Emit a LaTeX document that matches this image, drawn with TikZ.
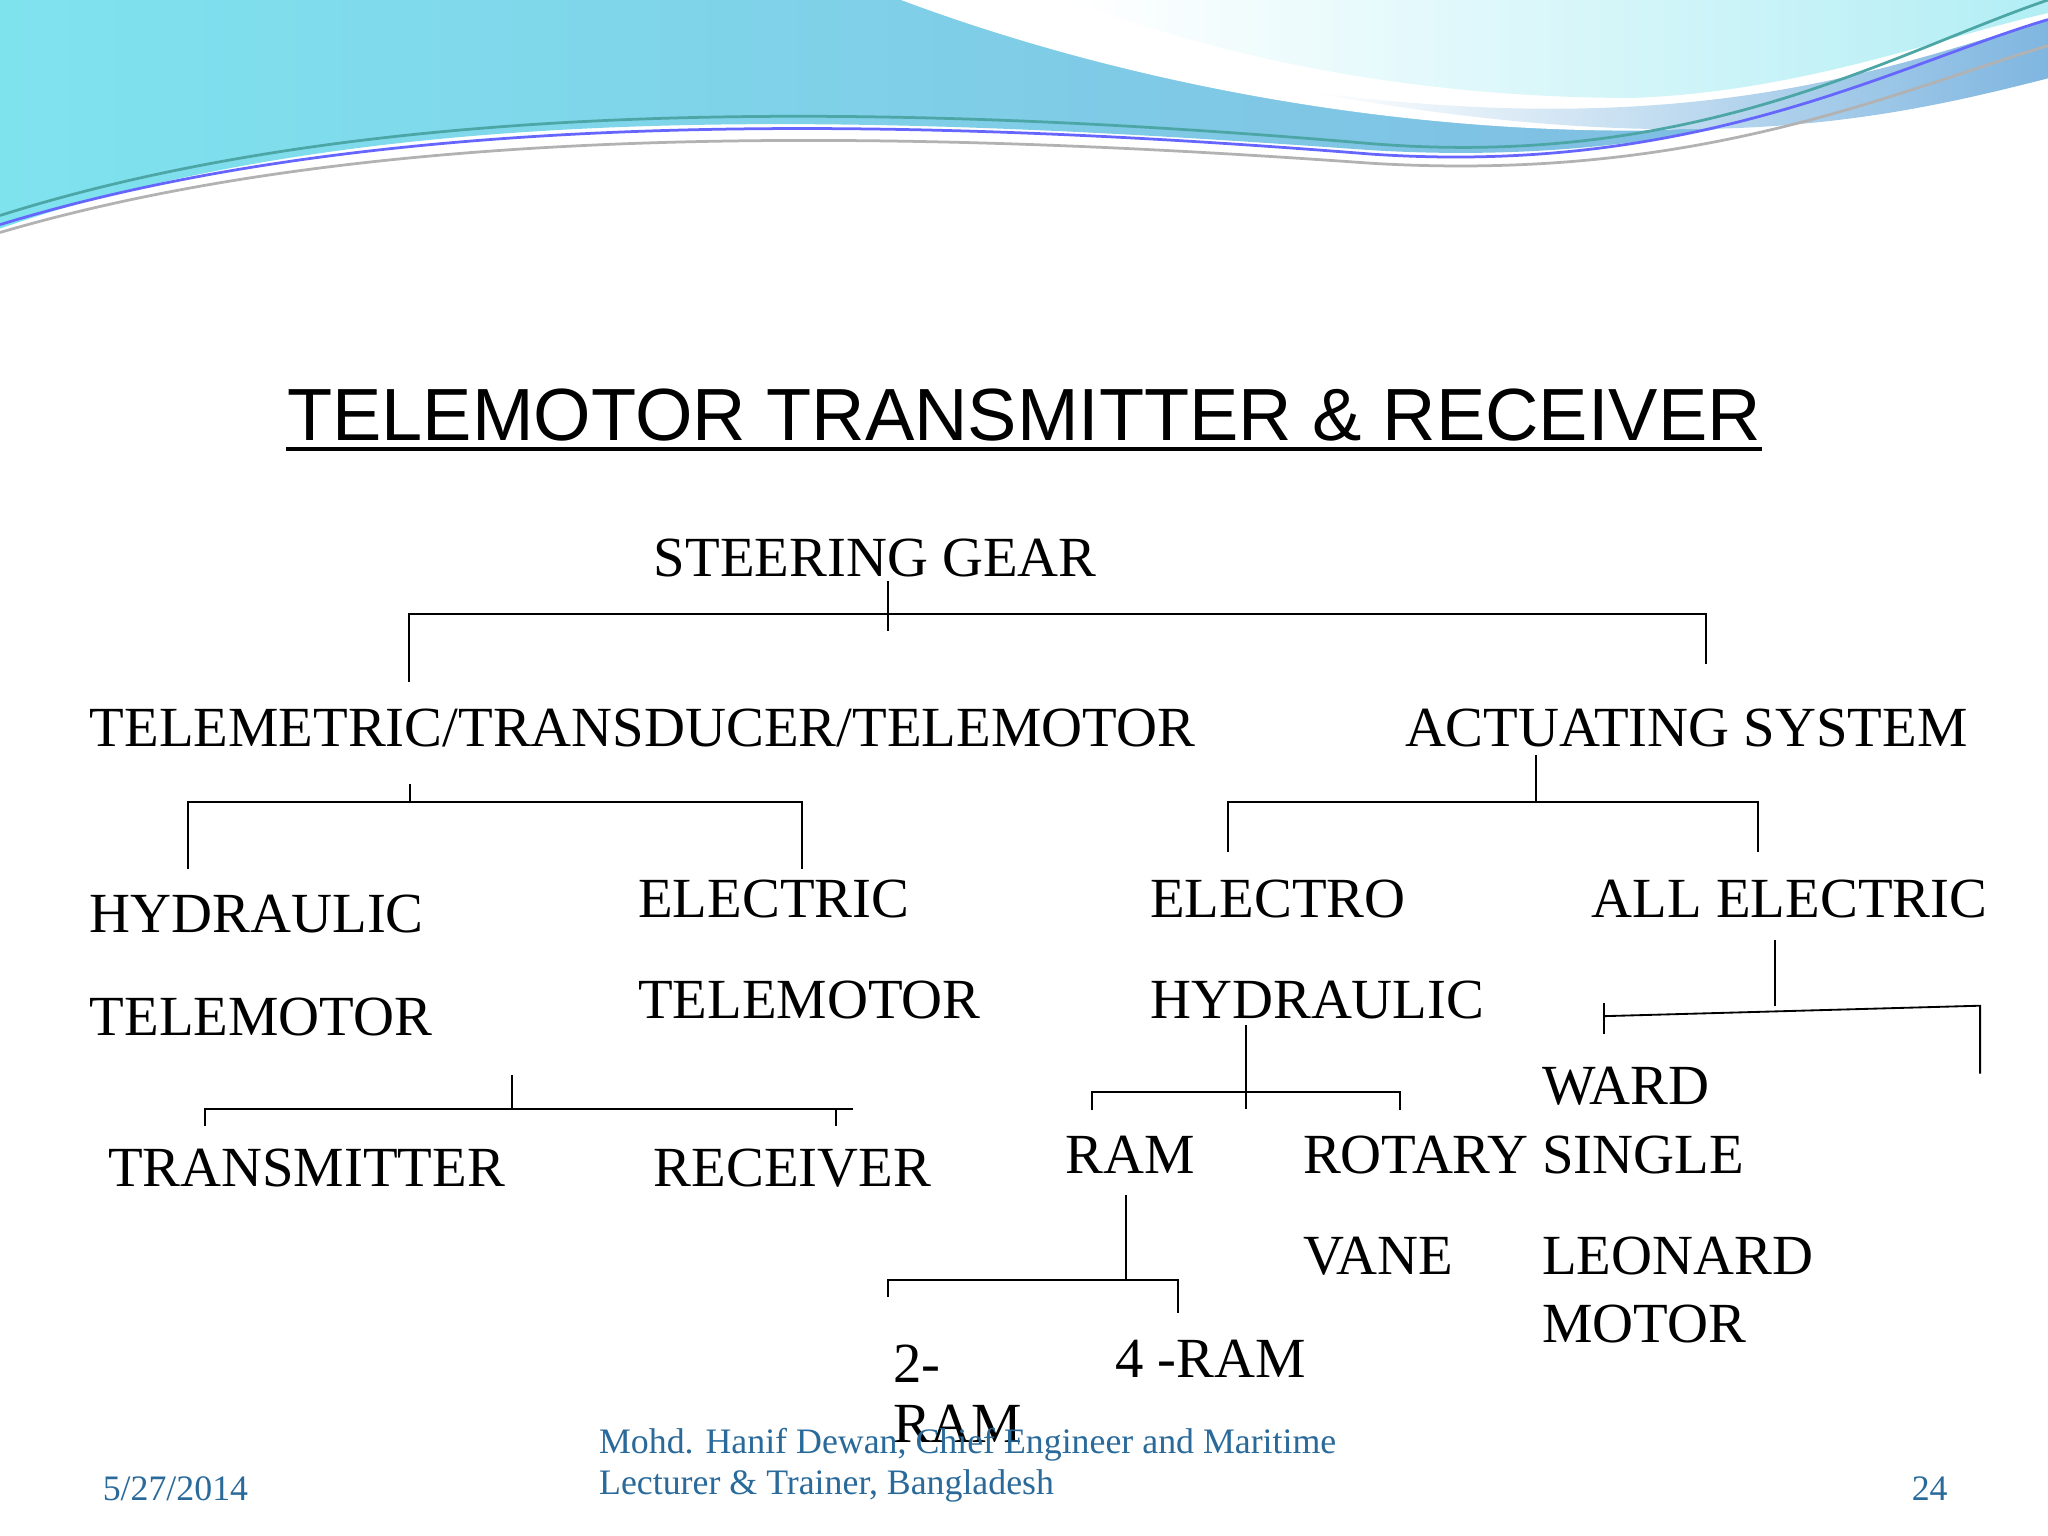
\documentclass[tikz,border=0pt]{standalone}
\usepackage{fontspec}
\setmainfont{Liberation Serif}
\newfontfamily\titlefont{Liberation Sans}
\usetikzlibrary{calc}
\begin{document}
\begin{tikzpicture}[x=0.01cm,y=-0.01cm,
  lbl/.style={anchor=west,inner sep=0pt,font=\fontsize{12.35}{14}\selectfont},
  foot/.style={anchor=west,inner sep=0pt,font=\fontsize{7.8}{9}\selectfont,text=footblue},
  tree/.style={draw=black,line width=0.4pt}]
\definecolor{footblue}{HTML}{2A6A9A}
\definecolor{cyanA}{HTML}{7FE3EE}
\definecolor{blueA}{HTML}{7FB6E0}
\useasboundingbox[fill=white] (0,0) rectangle (1568,1176);
% header wave
\shade[left color=cyanA,right color=blueA] (0,0) -- (0,175) .. controls (300,70) and (700,90) .. (1050,115) .. controls (1300,130) and (1450,60) .. (1568,30) -- (1568,0) -- cycle;
\fill[white] (690,0) .. controls (850,60) and (1050,100) .. (1250,100) .. controls (1380,100) and (1480,50) .. (1568,20) -- (1568,0) -- cycle;
\shade[left color=white,right color=blueA] (1000,70) .. controls (1300,110) and (1450,50) .. (1568,15) -- (1568,60) .. controls (1450,90) and (1300,125) .. (1000,70);
\shade[left color=white,right color=cyanA!60] (820,0) .. controls (950,50) and (1100,75) .. (1250,75) .. controls (1380,70) and (1480,30) .. (1568,10) -- (1568,0) -- cycle;
\draw[teal!70,line width=0.6pt] (0,165) .. controls (300,70) and (700,80) .. (1050,110) .. controls (1300,130) and (1450,40) .. (1568,0);
\draw[blue!60,line width=0.6pt] (0,172) .. controls (300,80) and (700,90) .. (1050,118) .. controls (1300,135) and (1450,50) .. (1568,15);
\draw[gray!60,line width=0.6pt] (0,178) .. controls (300,90) and (700,100) .. (1050,125) .. controls (1300,140) and (1450,70) .. (1568,35);
% title
\node[inner sep=0pt,font=\titlefont\fontsize{16.1}{18}\selectfont] (title) at (784,318) {TELEMOTOR TRANSMITTER \& RECEIVER};
\draw[line width=1pt] ($(title.south west)+(0,5)$) -- ($(title.south east)+(0,5)$);
% labels
\node[lbl] (sg) at (500,427) {STEERING GEAR};
\node[lbl] (tel) at (68,557) {TELEMETRIC/TRANSDUCER/TELEMOTOR};
\node[lbl] (act) at (1075,557) {ACTUATING SYSTEM};
\node[lbl] (hyd1) at (68,700) {HYDRAULIC};
\node[lbl] (hyd2) at (68,779) {TELEMOTOR};
\node[lbl] (el1) at (488,688) {ELECTRIC};
\node[lbl] (el2) at (488,766) {TELEMOTOR};
\node[lbl] (eh1) at (880,688) {ELECTRO};
\node[lbl] (eh2) at (880,766) {HYDRAULIC};
\node[lbl] (ae) at (1218,688) {ALL ELECTRIC};
\node[lbl] (w1) at (1180,832) {WARD};
\node[lbl] (w2) at (1180,884) {SINGLE};
\node[lbl] (w3) at (1180,962) {LEONARD};
\node[lbl] (w4) at (1180,1014) {MOTOR};
\node[lbl] (tx) at (82,894) {TRANSMITTER};
\node[lbl] (rx) at (500,894) {RECEIVER};
\node[lbl] (ram) at (815,884) {RAM};
\node[lbl] (rot) at (997,884) {ROTARY};
\node[lbl] (vane) at (997,962) {VANE};
\node[lbl] (r2a) at (683,1044) {2-};
\node[lbl] (r2b) at (683,1090) {RAM};
\node[lbl] (r4) at (853,1040) {4 -RAM};
% footer
\node[foot] (date) at (78,1140) {5/27/2014};
\node[foot] (auth1) at (458,1106) {Mohd. Hanif Dewan, Chief Engineer and Maritime};
\node[foot] (auth2) at (458,1138) {Lecturer \& Trainer, Bangladesh};
\node[foot] (pg) at (1463,1140) {24};
% tree junction coordinates
\coordinate (a0) at (680,445); \coordinate (a1) at (680,483);
\coordinate (aL) at (313,470); \coordinate (aR) at (1306,470);
\coordinate (aLd) at (313,522); \coordinate (aRd) at (1306,508);
\draw[tree] (a0) -- (a1); \draw[tree] (aLd) -- (aL) -- (aR) -- (aRd);
\coordinate (b0) at (314,600); \coordinate (b1) at (314,614);
\coordinate (bL) at (144,614); \coordinate (bR) at (614,614);
\coordinate (bLd) at (144,665); \coordinate (bRd) at (614,665);
\draw[tree] (b0) -- (b1); \draw[tree] (bLd) -- (bL) -- (bR) -- (bRd);
\coordinate (c0) at (1176,578); \coordinate (c1) at (1176,614);
\coordinate (cL) at (940,614); \coordinate (cR) at (1346,614);
\coordinate (cLd) at (940,652); \coordinate (cRd) at (1346,652);
\draw[tree] (c0) -- (c1); \draw[tree] (cLd) -- (cL) -- (cR) -- (cRd);
\coordinate (d0) at (1359,720); \coordinate (d1) at (1359,770);
\coordinate (dL) at (1228,778); \coordinate (dR) at (1516,770);
\coordinate (dLu) at (1228,768); \coordinate (dLd) at (1228,792); \coordinate (dRd) at (1516,822);
\draw[tree] (d0) -- (d1); \draw[tree] (dL) -- (dR) -- (dRd); \draw[tree] (dLu) -- (dLd);
\coordinate (e0) at (392,823); \coordinate (e1) at (392,849);
\coordinate (eL) at (157,849); \coordinate (eR) at (653,849);
\coordinate (eLd) at (157,862); \coordinate (eRd) at (640,862); \coordinate (eRt) at (640,849);
\draw[tree] (e0) -- (e1); \draw[tree] (eLd) -- (eL) -- (eR); \draw[tree] (eRt) -- (eRd);
\coordinate (f0) at (954,785); \coordinate (f1) at (954,849);
\coordinate (fL) at (836,836); \coordinate (fR) at (1072,836);
\coordinate (fLd) at (836,850); \coordinate (fRd) at (1072,850);
\draw[tree] (f0) -- (f1); \draw[tree] (fLd) -- (fL) -- (fR) -- (fRd);
\coordinate (g0) at (862,915); \coordinate (g1) at (862,980);
\coordinate (gL) at (680,980); \coordinate (gR) at (902,980);
\coordinate (gLd) at (680,993); \coordinate (gRd) at (902,1005);
\draw[tree] (g0) -- (g1); \draw[tree] (gLd) -- (gL) -- (gR) -- (gRd);
\end{tikzpicture}
\end{document}
